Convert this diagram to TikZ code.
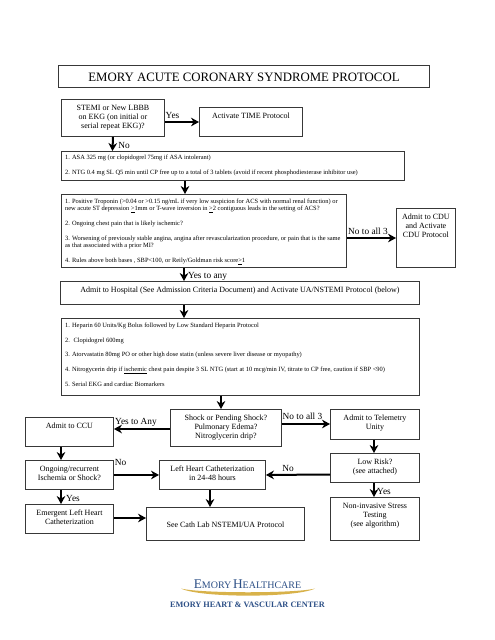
\documentclass[tikz,border=0pt]{standalone}
\usepackage{fontspec}
\setmainfont{Liberation Serif}
\usetikzlibrary{arrows.meta}
\newdimen\pxu \pxu=0.75pt
\definecolor{navy}{HTML}{2C4F86}
\definecolor{gold}{HTML}{D8B24A}
\definecolor{edge}{gray}{0.22}
\newcommand{\mainsz}{\fontsize{6}{6.6}\selectfont}
\newcommand{\smallsz}{\fontsize{4.83}{5.5}\selectfont}
% name, x, y, w, h, first-baseline offset, text
\newcommand{\cbox}[7]{\node[flowbox,anchor=north west] (#1) at (#2,#3) {\parbox[c][#5\pxu][t]{#4\pxu}{\centering\mainsz\vspace*{\dimexpr #6\pxu-1em\relax}\rule{0pt}{1em}#7}};}
\newcommand{\lbox}[7]{\node[flowbox,anchor=north west] (#1) at (#2,#3) {\parbox[c][#5\pxu][t]{#4\pxu}{\raggedright\smallsz\leftskip=3.6\pxu\vspace*{\dimexpr #6\pxu-1em\relax}\rule{0pt}{1em}#7}};}
\tikzset{
  flowbox/.style={draw=edge,line width=0.7pt,inner sep=0pt,fill=white},
  flowarrow/.style={draw=black,line width=1.5pt,-{Stealth[length=6pt,width=6.5pt]}},
  branch/.style={font=\fontsize{7}{8}\selectfont,inner sep=0pt,text=black}
}
\begin{document}
\begin{tikzpicture}[x=0.75pt,y=-0.75pt]
\useasboundingbox (0,0) rectangle (495,640);
\fill[white] (0,0) rectangle (495,640);

\node[flowbox,anchor=north west] (title) at (58,65) {\parbox[c][22\pxu][t]{371\pxu}{\centering\fontsize{9.6}{11}\selectfont\vspace*{\dimexpr 16.5\pxu-1em\relax}\rule{0pt}{1em}EMORY ACUTE CORONARY SYNDROME PROTOCOL}};

\cbox{stemi}{61}{99}{103}{37}{11}{STEMI or New LBBB\\ on EKG (on initial or\\ serial repeat EKG)?}
\cbox{time}{199}{107}{103}{29}{11}{Activate TIME Protocol}
\lbox{asa}{61}{151}{343}{29}{8}{1. ASA 325 mg (or clopidogrel 75mg if ASA intolerant)\\[5.5pt]
2. NTG 0.4 mg SL Q5 min until CP free up to a total of 3 tablets (avoid if recent phosphodiesterase inhibitor use)}
\lbox{trop}{61}{194}{285}{73}{9}{1. Positive Troponin (>0.04 or >0.15 ng/mL if very low suspicion for ACS with normal renal function) or\\
new acute ST depression \underline{>}1mm or T-wave inversion in \underline{>}2 contiguous leads in the setting of ACS?\\[5.5pt]
2. Ongoing chest pain that is likely ischemic?\\[5.5pt]
3. Worsening of previously stable angina, angina after revascularization procedure, or pain that is the same\\
as that associated with a prior MI?\\[5.5pt]
4. Rules above both bases , SBP<100, or Reily/Goldman risk score\underline{>}1}
\cbox{cdu}{396}{208}{59}{59}{11.5}{Admit to CDU\\ and Activate\\ CDU Protocol}
\cbox{hosp}{60}{281}{359}{23}{11}{Admit to Hospital (See Admission Criteria Document) and Activate UA/NSTEMI Protocol (below)}
\lbox{hep}{61}{318}{358}{77}{9}{1. Heparin 60 Units/Kg Bolus followed by Low Standard Heparin Protocol\\[5.5pt]
2.~ Clopidogrel 600mg\\[5.5pt]
3. Atorvastatin 80mg PO or other high dose statin (unless severe liver disease or myopathy)\\[5.5pt]
4. Nitrogycerin drip if \underline{ischemic} chest pain despite 3 SL NTG (start at 10 mcg/min IV, titrate to CP free, caution if SBP <90)\\[5.5pt]
5. Serial EKG and cardiac Biomarkers}
\cbox{ccu}{25}{417}{88}{29}{11}{Admit to CCU}
\cbox{ongoing}{25}{460}{88}{29}{11}{Ongoing/recurrent\\ Ischemia or Shock?}
\cbox{emergent}{25}{504}{88}{29}{11}{Emergent Left Heart\\ Catheterization}
\cbox{shock}{170}{409}{111}{37}{11}{Shock or Pending Shock?\\ Pulmonary Edema?\\ Nitroglycerin drip?}
\cbox{lhc}{159}{460}{106}{29}{11}{Left Heart Catheterization\\ in 24-48 hours}
\cbox{cath}{146}{507}{158}{33}{20}{See Cath Lab NSTEMI/UA Protocol}
\cbox{tele}{330}{409}{89}{30}{11}{Admit to Telemetry\\ Unity}
\cbox{low}{330}{453}{89}{29}{11}{Low Risk?\\ (see attached)}
\cbox{stress}{330}{497}{89}{43}{11}{Non-invasive Stress\\ Testing\\ (see algorithm)}

\draw[flowarrow] (164,122 -| stemi.east) -- (199,122 -| time.west);
\draw[flowarrow] (stemi.south) -- (112.5,0 |- asa.north);
\draw[flowarrow] (185,0 |- asa.south) -- (185,0 |- trop.north);
\draw[flowarrow] (346,238 -| trop.east) -- (396,238 -| cdu.west);
\draw[flowarrow] (184,0 |- trop.south) -- (184,0 |- hosp.north);
\draw[flowarrow] (184,0 |- hosp.south) -- (184,0 |- hep.north);
\draw[flowarrow] (221,0 |- hep.south) -- (221,0 |- shock.north);
\draw[flowarrow] (170,429 -| shock.west) -- (113,429 -| ccu.east);
\draw[flowarrow] (281,424 -| shock.east) -- (330,424 -| tele.west);
\draw[flowarrow] (61,0 |- ccu.south) -- (61,0 |- ongoing.north);
\draw[flowarrow] (61,0 |- ongoing.south) -- (61,0 |- emergent.north);
\draw[flowarrow] (ongoing.east) -- (lhc.west);
\draw[flowarrow] (113,518 -| emergent.east) -- (146,518 -| cath.west);
\draw[flowarrow] (210,0 |- lhc.south) -- (210,0 |- cath.north);
\draw[flowarrow] (374,0 |- tele.south) -- (374,0 |- low.north);
\draw[flowarrow] (330,474.5 -| low.west) -- (lhc.east);
\draw[flowarrow] (374,0 |- low.south) -- (374,0 |- stress.north);

\node[branch] (l1) at (172.5,115) {Yes};
\node[branch] (l2) at (124,145) {No};
\node[branch] (l3) at (368,231) {No to all 3};
\node[branch] (l4) at (207.5,276) {Yes to any};
\node[branch] (l5) at (136,422) {Yes to Any};
\node[branch] (l6) at (120.5,462) {No};
\node[branch] (l7) at (73,498) {Yes};
\node[branch] (l8) at (302.5,416) {No to all 3};
\node[branch] (l9) at (288,468) {No};
\node[branch] (l10) at (384,491) {Yes};

% logo
\fill[gold] (181,588.5) .. controls (200,598) and (296,598) .. (315,588.5)
  .. controls (296,593.5) and (200,593.5) .. (181,588.5) -- cycle;
\node[inner sep=0pt,text=navy] (logo1) at (247.5,584.5) {\fontsize{10}{11}\selectfont E\fontsize{7.5}{8}\selectfont MORY\,\fontsize{10}{11}\selectfont H\fontsize{7.5}{8}\selectfont EALTHCARE};
\node[inner sep=0pt,text=navy] (logo2) at (247.5,604.5) {\fontsize{6.2}{8}\selectfont\bfseries EMORY HEART \& VASCULAR CENTER};
\end{tikzpicture}
\end{document}
